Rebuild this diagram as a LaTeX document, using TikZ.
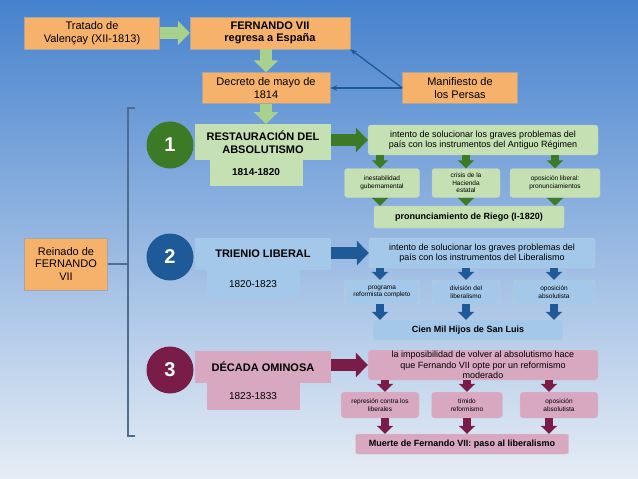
\documentclass[tikz,border=0pt]{standalone}
\usepackage{fontspec}
\setmainfont{Liberation Sans}
\usetikzlibrary{arrows.meta}
\definecolor{naranja}{HTML}{F6B26B}
\definecolor{verdeC}{HTML}{C5E0B3}
\definecolor{verdeO}{HTML}{3D7A26}
\definecolor{verdeF}{HTML}{A9D18E}
\definecolor{azulC}{HTML}{A4C8EA}
\definecolor{azulO}{HTML}{1F5A98}
\definecolor{rosaC}{HTML}{D7A8C0}
\definecolor{granate}{HTML}{7A1C48}
\tikzstyle{caja} = [draw=gray!70, fill=naranja, align=center, inner sep=1pt, font=\fontsize{11}{12.5}\selectfont]
\tikzstyle{tit} = [align=center, inner sep=1pt, font=\bfseries\fontsize{11}{12.5}\selectfont]
\tikzstyle{desc} = [draw=white!60!gray, rounded corners=3pt, align=center, inner sep=1pt, font=\fontsize{9}{10.5}\selectfont]
\tikzstyle{peq} = [draw=white!60!gray, rounded corners=3pt, align=center, inner sep=1pt, font=\fontsize{6.5}{7.5}\selectfont]
\tikzstyle{fin} = [draw=white!60!gray, rounded corners=2pt, align=center, inner sep=1pt, font=\bfseries\fontsize{9}{10}\selectfont]
\tikzstyle{num} = [circle, minimum size=47pt, inner sep=0pt, text=white, font=\bfseries\fontsize{20}{20}\selectfont]
\tikzstyle{gorda} = [line width=12pt, -{Triangle[width=24pt,length=12pt]}]
\tikzstyle{flecha} = [line width=8pt, -{Triangle[width=16pt,length=8pt]}]
\begin{document}
\begin{tikzpicture}[x=1pt, y=-1pt]
\fill[top color={rgb,255:red,70;green,130;blue,205}, bottom color={rgb,255:red,230;green,237;blue,246}] (0,0) rectangle (638,479);

% cabecera
\node[caja, minimum width=135pt, minimum height=32pt] (tratado) at (92,33) {Tratado de\\Valençay (XII-1813)};
\node[caja, minimum width=160pt, minimum height=32pt, font=\bfseries\fontsize{11}{12.5}\selectfont] (fernando) at (270,33) {FERNANDO VII\\regresa a España};
\node[caja, minimum width=128pt, minimum height=31pt] (decreto) at (266,88) {Decreto de mayo de\\1814};
\node[caja, minimum width=115pt, minimum height=31pt] (manifiesto) at (460,88) {Manifiesto de\\los Persas};
\node[caja, minimum width=83pt, minimum height=52pt] (reinado) at (66,264) {Reinado de\\FERNANDO\\VII};
\coordinate (m) at (manifiesto.west);
\draw[gorda, verdeF] (tratado) -- (fernando);
\draw[gorda, verdeF] (fernando.south -| decreto) -- (decreto);
\draw[gorda, verdeF] (decreto.south) -- (266,124);
\draw[azulO, line width=1.3pt, -{Stealth[length=7pt]}] (m) -- (decreto.east);
\draw[azulO, line width=1.3pt, -{Stealth[length=7pt]}] (m) -- (fernando.south east);

% llave
\draw[azulO!50!gray, line width=1.5pt] (135,108) -- (128,108) -- (128,436) -- (135,436);
\draw[azulO!50!gray, line width=1.5pt] (reinado.east) -- (128,264);

% 1
\node[fill=verdeC, minimum width=93pt, minimum height=28pt] (t1b) at (256,172) {};
\node[tit, fill=verdeC, minimum width=136pt, minimum height=36pt] (t1) at (263,142) {RESTAURACIÓN DEL\\ABSOLUTISMO};
\node[font=\bfseries\fontsize{10}{11}\selectfont] at (t1b) {1814-1820};
\node[num, fill=verdeO] (n1) at (170,145) {1};
\node[desc, fill=verdeC, minimum width=230pt, minimum height=30pt] (d1) at (483,140) {intento de solucionar los graves problemas del\\país con los instrumentos del Antiguo Régimen};
\node[peq, fill=verdeC, minimum width=75pt, minimum height=29pt] (a1) at (382,183) {inestabilidad\\gubernamental};
\node[peq, fill=verdeC, minimum width=68pt, minimum height=29pt] (b1) at (466,183) {crisis de la\\Hacienda\\estatal};
\node[peq, fill=verdeC, minimum width=90pt, minimum height=29pt] (c1) at (555,183) {oposición liberal:\\pronunciamientos};
\node[fin, fill=verdeC, minimum width=190pt, minimum height=22pt] (f1) at (469,217) {pronunciamiento de Riego (I-1820)};
\draw[gorda, verdeO] (t1.east |- d1) -- (d1.west);
\foreach \x/\s in {380/a1, 466/b1, 555/c1} {
  \draw[flecha, verdeO] (d1.south -| \x,0) -- (\s.north -| \x,0);
  \draw[flecha, verdeO] (\s.south -| \x,0) -- (f1.north -| \x,0);
}

% 2
\node[fill=azulC, minimum width=93pt, minimum height=28pt] (t2b) at (253,284) {};
\node[tit, fill=azulC, minimum width=136pt, minimum height=32pt] (t2) at (263,254) {TRIENIO LIBERAL};
\node[font=\fontsize{10}{11}\selectfont] at (t2b) {1820-1823};
\node[num, fill=azulO] (n2) at (170,257) {2};
\node[desc, fill=azulC, minimum width=226pt, minimum height=30pt] (d2) at (482,253) {intento de solucionar los graves problemas del\\país con los instrumentos del Liberalismo};
\node[peq, fill=azulC, minimum width=75pt, minimum height=24pt] (a2) at (382,292) {programa\\reformista completo};
\node[peq, fill=azulC, minimum width=68pt, minimum height=24pt] (b2) at (466,292) {división del\\liberalismo};
\node[peq, fill=azulC, minimum width=82pt, minimum height=24pt] (c2) at (554,292) {oposición\\absolutista};
\node[fin, fill=azulC, minimum width=190pt, minimum height=20pt] (f2) at (468,330) {Cien Mil Hijos de San Luis};
\draw[gorda, azulO] (t2.east |- d2) -- (d2.west);
\foreach \x/\s in {380/a2, 466/b2, 554/c2} {
  \draw[flecha, azulO] (d2.south -| \x,0) -- (\s.north -| \x,0);
  \draw[flecha, azulO] (\s.south -| \x,0) -- (f2.north -| \x,0);
}

% 3
\node[fill=rosaC, minimum width=93pt, minimum height=28pt] (t3b) at (253,396) {};
\node[tit, fill=rosaC, minimum width=136pt, minimum height=32pt] (t3) at (263,367) {DÉCADA OMINOSA};
\node[font=\fontsize{10}{11}\selectfont] at (t3b) {1823-1833};
\node[num, fill=granate] (n3) at (170,370) {3};
\node[desc, fill=rosaC, minimum width=230pt, minimum height=30pt] (d3) at (483,365) {la imposibilidad de volver al absolutismo hace\\que Fernando VII opte por un reformismo\\moderado};
\node[peq, fill=rosaC, minimum width=78pt, minimum height=26pt] (a3) at (380,405) {represión contra los\\liberales};
\node[peq, fill=rosaC, minimum width=71pt, minimum height=26pt] (b3) at (467,405) {tímido\\reformismo};
\node[peq, fill=rosaC, minimum width=78pt, minimum height=26pt] (c3) at (559,405) {oposición\\absolutista};
\node[fin, fill=rosaC, minimum width=213pt, minimum height=20pt] (f3) at (462,444) {Muerte de Fernando VII: paso al liberalismo};
\draw[gorda, granate] (t3.east |- d3) -- (d3.west);
\foreach \x/\s in {385/a3, 467/b3, 549/c3} {
  \draw[flecha, granate] (d3.south -| \x,0) -- (\s.north -| \x,0);
  \draw[flecha, granate] (\s.south -| \x,0) -- (f3.north -| \x,0);
}
\useasboundingbox (0,0) rectangle (638,479);
\end{tikzpicture}
\end{document}
